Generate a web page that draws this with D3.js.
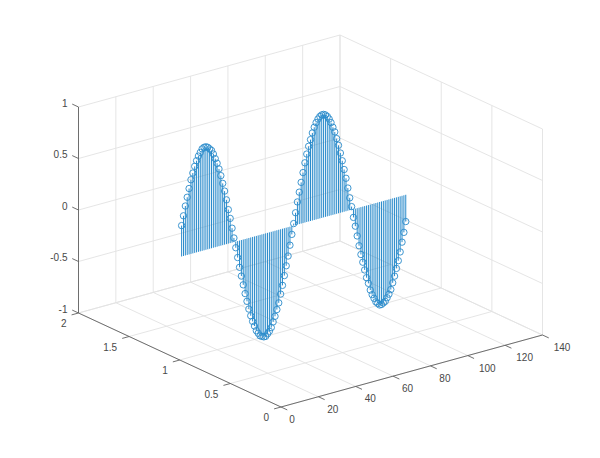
<!DOCTYPE html>
<html lang="en">
<head>
    <meta charset="utf-8">
    <title>stem3</title>
    <style>
        body { margin: 0; background: #fff; }
        svg { display: block; }
        .grid line { stroke: #e2e2e2; stroke-width: 0.9; }
        .axis line { stroke: #606060; stroke-width: 0.9; }
        .axis text { font-family: "Liberation Sans", sans-serif; font-size: 10px; fill: #484848; }
        .stem { stroke: #2a8bcb; stroke-width: 1; }
        .marker { fill: none; stroke: #2a8bcb; stroke-width: 0.9; }
    </style>
</head>
<body>
<svg width="600" height="458"></svg>
<script src="https://cdn.jsdelivr.net/npm/d3@7"></script>
<script>
    // values
    const xTicks = [0, 20, 40, 60, 80, 100, 120, 140];
    const yTicks = [0, 0.5, 1, 1.5, 2];
    const zTicks = [-1, -0.5, 0, 0.5, 1];
    const zLabels = ["-1", "-0.5", "0", "0.5", "1"];
    const yLabels = ["0", "0.5", "1", "1.5", "2"];
    const stemY = 1;
    const stemBase = 0;
    const stemZ = [
        0.30, 0.39, 0.48, 0.56, 0.64, 0.72, 0.78, 0.84, 0.89, 0.93,
        0.96, 0.99, 1.00, 1.00, 0.99, 0.97, 0.95, 0.91, 0.86, 0.81,
        0.75, 0.68, 0.60, 0.52, 0.43, 0.33, 0.24, 0.14, 0.04, -0.06,
        -0.16, -0.26, -0.35, -0.44, -0.53, -0.61, -0.69, -0.76, -0.82, -0.87,
        -0.92, -0.95, -0.98, -0.99, -1.00, -1.00, -0.98, -0.96, -0.93, -0.88,
        -0.83, -0.77, -0.71, -0.63, -0.55, -0.46, -0.37, -0.28, -0.18, -0.08,
        0.02, 0.12, 0.22, 0.31, 0.40, 0.49, 0.58, 0.66, 0.73, 0.79,
        0.85, 0.90, 0.94, 0.97, 0.99, 1.00, 1.00, 0.99, 0.97, 0.94,
        0.90, 0.85, 0.80, 0.73, 0.66, 0.58, 0.50, 0.41, 0.32, 0.22,
        0.12, 0.03, -0.08, -0.17, -0.27, -0.37, -0.46, -0.54, -0.62, -0.70,
        -0.76, -0.83, -0.88, -0.92, -0.96, -0.98, -1.00, -1.00, -0.99, -0.98,
        -0.95, -0.92, -0.88, -0.82, -0.76, -0.69, -0.62, -0.54, -0.45, -0.36,
        -0.26
    ];
    const data = stemZ.map((z, i) => ({x: i + 1, z: z}));

    // orthographic view: each data axis adds its own screen offset
    const xToPx = d3.scaleLinear().domain([0, 140]).range([0, 261.5]);
    const xToPy = d3.scaleLinear().domain([0, 140]).range([0, -72]);
    const yToPx = d3.scaleLinear().domain([0, 2]).range([0, -202.5]);
    const yToPy = d3.scaleLinear().domain([0, 2]).range([0, -94]);
    const zToPy = d3.scaleLinear().domain([-1, 1]).range([0, -206]);
    const originX = 281, originY = 407;

    function px(x, y) {
        return originX + xToPx(x) + yToPx(y);
    }
    function py(x, y, z) {
        return originY + xToPy(x) + yToPy(y) + zToPy(z);
    }

    const svg = d3.select("svg");

    function addLines(g, rows) {
        g.selectAll("line")
            .data(rows)
            .enter()
            .append("line")
            .attr("x1", d => px(d[0][0], d[0][1]))
            .attr("y1", d => py(d[0][0], d[0][1], d[0][2]))
            .attr("x2", d => px(d[1][0], d[1][1]))
            .attr("y2", d => py(d[1][0], d[1][1], d[1][2]));
    }

    // grid on floor and two back walls
    const gridRows = [];
    xTicks.forEach(x => {
        gridRows.push([[x, 0, -1], [x, 2, -1]]);
        gridRows.push([[x, 2, -1], [x, 2, 1]]);
    });
    yTicks.forEach(y => {
        gridRows.push([[0, y, -1], [140, y, -1]]);
        gridRows.push([[140, y, -1], [140, y, 1]]);
    });
    zTicks.forEach(z => {
        gridRows.push([[0, 2, z], [140, 2, z]]);
        gridRows.push([[140, 2, z], [140, 0, z]]);
    });
    addLines(svg.append("g").attr("class", "grid"), gridRows);

    // axis lines and tick marks
    const axis = svg.append("g").attr("class", "axis");
    const axisRows = [
        [[0, 0, -1], [140, 0, -1]],
        [[0, 0, -1], [0, 2, -1]],
        [[0, 2, -1], [0, 2, 1]]
    ];
    xTicks.forEach(x => axisRows.push([[x, 0, -1], [x, -0.062, -1]]));
    yTicks.forEach(y => axisRows.push([[0, y, -1], [-3.7, y, -1]]));
    zTicks.forEach(z => axisRows.push([[0, 2, z], [0, 2.062, z]]));
    addLines(axis, axisRows);

    // tick labels
    const xShift = [0, 11, 14.5, 19.5];
    axis.selectAll("text.x")
        .data(xTicks)
        .enter()
        .append("text")
        .attr("class", "x")
        .attr("text-anchor", "middle")
        .attr("x", d => px(d, 0) + xShift[String(d).length])
        .attr("y", d => py(d, 0, -1) + 16)
        .text(d => d);

    axis.selectAll("text.y")
        .data(yTicks)
        .enter()
        .append("text")
        .attr("class", "y")
        .attr("text-anchor", "end")
        .attr("x", d => px(0, d) - 12)
        .attr("y", d => py(0, d, -1) + 14)
        .text((d, i) => yLabels[i]);

    axis.selectAll("text.z")
        .data(zTicks)
        .enter()
        .append("text")
        .attr("class", "z")
        .attr("text-anchor", "end")
        .attr("x", px(0, 2) - 11)
        .attr("y", d => py(0, 2, d) - 0.5)
        .text((d, i) => zLabels[i]);

    // stems
    svg.append("g").selectAll("line")
        .data(data)
        .enter()
        .append("line")
        .attr("class", "stem")
        .attr("x1", d => px(d.x, stemY))
        .attr("y1", d => py(d.x, stemY, stemBase))
        .attr("x2", d => px(d.x, stemY))
        .attr("y2", d => py(d.x, stemY, d.z));

    // markers
    svg.append("g").selectAll("circle")
        .data(data)
        .enter()
        .append("circle")
        .attr("class", "marker")
        .attr("r", 3.2)
        .attr("cx", d => px(d.x, stemY))
        .attr("cy", d => py(d.x, stemY, d.z));
</script>
</body>
</html>
